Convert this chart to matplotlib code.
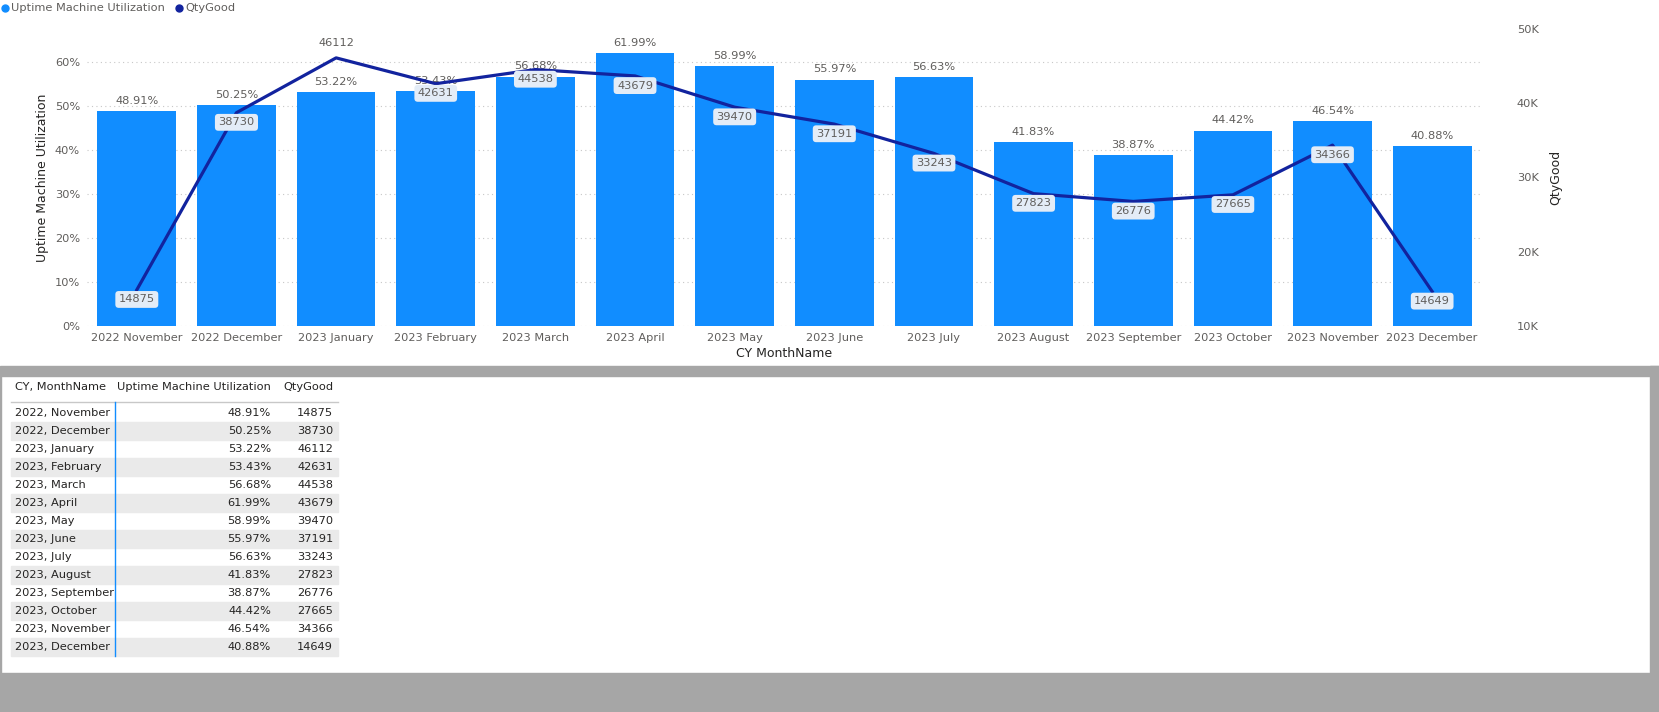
import matplotlib.pyplot as plt
from matplotlib.patches import Rectangle
from matplotlib.ticker import FuncFormatter

months = ["2022 November", "2022 December", "2023 January", "2023 February", "2023 March",
          "2023 April", "2023 May", "2023 June", "2023 July", "2023 August",
          "2023 September", "2023 October", "2023 November", "2023 December"]
table_months = ["2022, November", "2022, December", "2023, January", "2023, February",
                "2023, March", "2023, April", "2023, May", "2023, June", "2023, July",
                "2023, August", "2023, September", "2023, October", "2023, November",
                "2023, December"]
utilization = [48.91, 50.25, 53.22, 53.43, 56.68, 61.99, 58.99, 55.97, 56.63,
               41.83, 38.87, 44.42, 46.54, 40.88]
qty_good = [14875, 38730, 46112, 42631, 44538, 43679, 39470, 37191, 33243,
            27823, 26776, 27665, 34366, 14649]

BAR = "#118DFF"
LINE = "#12239E"
GRAY = "#605E5C"
FS = 8.2

fig = plt.figure(figsize=(16.59, 7.12), dpi=100)
fig.patch.set_facecolor("white")

# background pieces / table in pixel coords
bg = fig.add_axes([0, 0, 1, 1], zorder=-1)
bg.set_xlim(0, 1659)
bg.set_ylim(712, 0)
bg.axis("off")
bg.add_patch(Rectangle((0, 366), 1659, 10, color="#A6A6A6"))
bg.add_patch(Rectangle((1650, 366), 9, 346, color="#A6A6A6"))
bg.add_patch(Rectangle((0, 673), 1659, 39, color="#A6A6A6"))
bg.add_patch(Rectangle((0, 376), 1, 297, color="#A6A6A6"))

# legend
bg.plot([5], [8], "o", color=BAR, ms=5)
bg.text(11, 8, "Uptime Machine Utilization", va="center", fontsize=FS, color=GRAY)
bg.plot([179], [8], "o", color=LINE, ms=5)
bg.text(185, 8, "QtyGood", va="center", fontsize=FS, color=GRAY)

# table
bg.text(15, 387, "CY, MonthName", va="center", fontsize=FS, color="#252423")
bg.text(271, 387, "Uptime Machine Utilization", va="center", ha="right", fontsize=FS, color="#252423")
bg.text(333, 387, "QtyGood", va="center", ha="right", fontsize=FS, color="#252423")
bg.plot([11, 338], [402, 402], color="#C8C8C8", lw=1)
for i, (m, u, q) in enumerate(zip(table_months, utilization, qty_good)):
    y = 404 + i * 18
    if i % 2 == 1:
        bg.add_patch(Rectangle((11, y), 327, 18, color="#EAEAEA"))
    bg.text(15, y + 9, m, va="center", fontsize=FS, color="#252423")
    bg.text(271, y + 9, f"{u:.2f}%", va="center", ha="right", fontsize=FS, color="#252423")
    bg.text(333, y + 9, str(q), va="center", ha="right", fontsize=FS, color="#252423")
bg.plot([115, 115], [402, 656], color="#118DFF", lw=1)

# chart
ax = fig.add_axes([87 / 1659, 386 / 712, 1395 / 1659, 297 / 712])
x = list(range(len(months)))
ax.bar(x, [u / 100 for u in utilization], width=0.79, color=BAR, zorder=2)
ax.set_xlim(-0.5, len(months) - 0.5)
ax.set_ylim(0, 0.675)
ax.set_yticks([0, 0.1, 0.2, 0.3, 0.4, 0.5, 0.6])
ax.yaxis.set_major_formatter(FuncFormatter(lambda v, p: f"{v * 100:.0f}%"))
ax.grid(axis="y", linestyle=(0, (1, 3)), color="#C8C8C8", zorder=0)
ax.set_xticks(x)
ax.set_xticklabels(months)
ax.tick_params(length=0, labelsize=FS, colors=GRAY, pad=5)
for s in ax.spines.values():
    s.set_visible(False)
ax.set_ylabel("Uptime Machine Utilization", fontsize=9, color="#252423")
ax.set_xlabel("CY MonthName", fontsize=9, color="#252423", labelpad=3)
for i, u in enumerate(utilization):
    ax.text(i, u / 100 + 0.012, f"{u:.2f}%", ha="center", va="bottom", fontsize=FS, color=GRAY)

ax2 = ax.twinx()
ax2.plot(x, qty_good, color=LINE, lw=2.3, zorder=3)
ax2.set_ylim(10000, 50000)
ax2.set_yticks([10000, 20000, 30000, 40000, 50000])
ax2.yaxis.set_major_formatter(FuncFormatter(lambda v, p: f"{v / 1000:.0f}K"))
ax2.tick_params(length=0, labelsize=FS, colors=GRAY, pad=25)
for s in ax2.spines.values():
    s.set_visible(False)
ax2.set_ylabel("QtyGood", fontsize=9, color="#252423", labelpad=8)
for i, q in enumerate(qty_good):
    if i == 2:
        ax2.text(i, q + 1300, str(q), ha="center", va="bottom", fontsize=FS, color=GRAY)
    else:
        ax2.text(i, q - 1300, str(q), ha="center", va="center", fontsize=FS, color=GRAY, zorder=4,
                 bbox=dict(boxstyle="round,pad=0.3", fc="#E3ECF7", ec="none"))

fig.savefig("out.png", dpi=100)
